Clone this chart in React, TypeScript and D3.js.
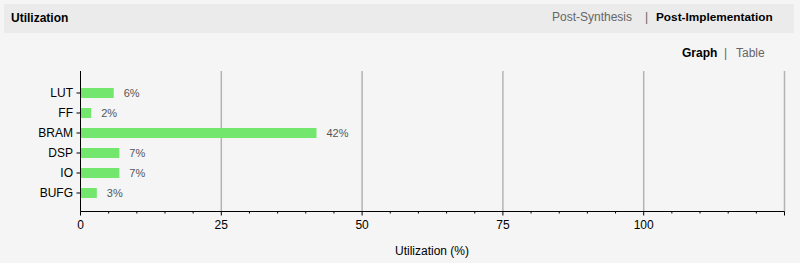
import React from "react";
import * as d3 from "d3";

const categories = ["LUT", "FF", "BRAM", "DSP", "IO", "BUFG"];
const values = [5.9, 1.9, 41.9, 6.9, 6.9, 2.9];
const majorTicks = [0, 25, 50, 75, 100];
const xMax = 125;

export default function App() {
  const W = 800, H = 263;
  const x = d3.scaleLinear().domain([0, xMax]).range([80.5, 784.5]);
  const y = d3.scaleBand<string>().domain(categories).range([83, 203]).paddingInner(0.5).paddingOuter(0.25);
  const minor = d3.range(0, xMax + 0.001, 5);
  const plotTop = 71, plotBottom = 211.5;
  const font = "Arial, 'Liberation Sans', sans-serif";
  return (
    <svg width={W} height={H} style={{ position: "absolute", left: 0, top: 0, display: "block" }} fontFamily={font}>
      <rect x={0} y={0} width={W} height={H} fill="#f5f5f5" />
      <rect x={4} y={4} width={790} height={29} fill="#ebebeb" />
      <text x={11} y={22} fontSize={12} fontWeight="bold" fill="#000">Utilization</text>
      <text x={552} y={21} fontSize={12} fill="#666">Post-Synthesis</text>
      <text x={645} y={21} fontSize={12} fill="#666">|</text>
      <text x={656} y={21} fontSize={11.8} fontWeight="bold" fill="#000">Post-Implementation</text>
      <text x={682} y={57} fontSize={12} fontWeight="bold" fill="#000">Graph</text>
      <text x={724} y={57} fontSize={12} fill="#666">|</text>
      <text x={736} y={57} fontSize={12} fill="#666">Table</text>

      {[...majorTicks.slice(1), xMax].map((t) => (
        <line key={"g" + t} x1={x(t)} x2={x(t)} y1={plotTop} y2={plotBottom} stroke="#b3b3b3" strokeWidth={1.5} />
      ))}

      {categories.map((c, i) => (
        <g key={c}>
          <rect x={x(0)} y={y(c)!} width={x(values[i]) - x(0)} height={y.bandwidth()} fill="#73e66d" />
          <text x={x(values[i]) + 10} y={y(c)! + y.bandwidth() / 2} dy="0.35em" fontSize={11} fill="#555">
            {Math.round(values[i])}%
          </text>
          <line x1={x(0) - 4} x2={x(0)} y1={y(c)! + y.bandwidth() / 2} y2={y(c)! + y.bandwidth() / 2} stroke="#000" />
          <text x={73} y={y(c)! + y.bandwidth() / 2} dy="0.35em" fontSize={12} textAnchor="end" fill="#000">
            {c}
          </text>
        </g>
      ))}

      <line x1={x(0)} x2={x(0)} y1={plotTop} y2={plotBottom} stroke="#000" strokeWidth={1} />
      <line x1={x(0)} x2={x(xMax)} y1={plotBottom} y2={plotBottom} stroke="#000" strokeWidth={1} />
      {minor.map((t) => (
        <line key={"m" + t} x1={x(t)} x2={x(t)} y1={plotBottom} y2={plotBottom + (t % 25 === 0 ? 4 : 2)} stroke="#000" />
      ))}
      {majorTicks.map((t) => (
        <text key={"t" + t} x={x(t)} y={229} textAnchor="middle" fontSize={12} fill="#000">{t}</text>
      ))}
      <text x={432} y={255} textAnchor="middle" fontSize={12} fill="#000">Utilization (%)</text>
    </svg>
  );
}
